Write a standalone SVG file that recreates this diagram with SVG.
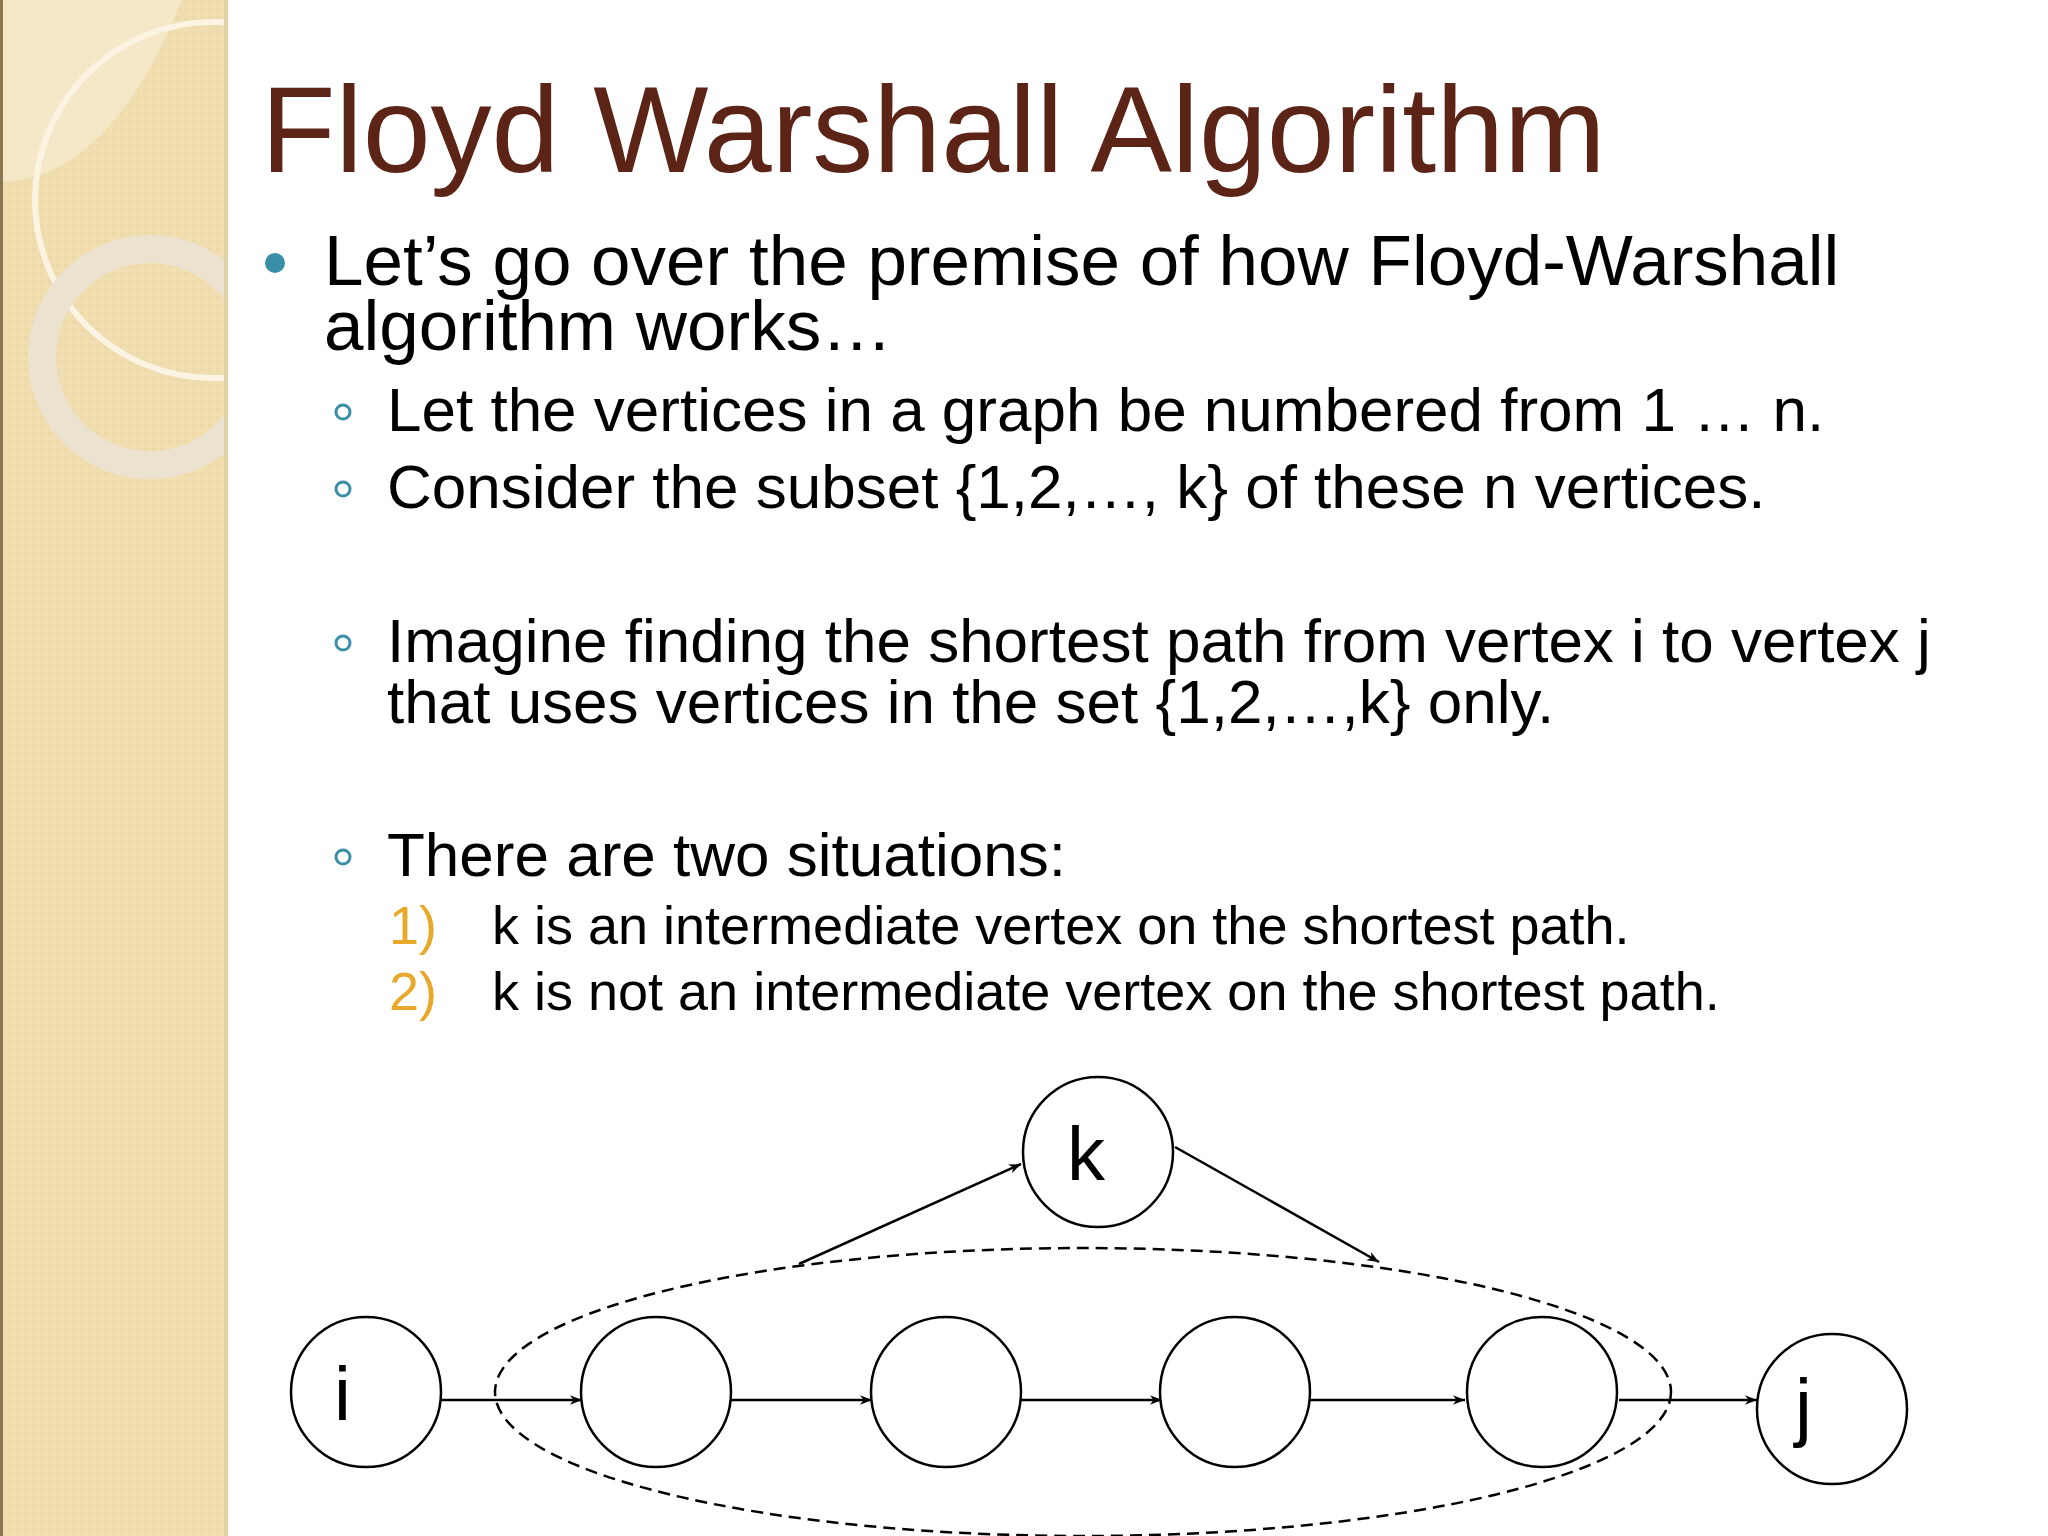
<svg xmlns="http://www.w3.org/2000/svg" width="2048" height="1536" viewBox="0 0 2048 1536">
<style>
text{font-family:"Liberation Sans",Arial,sans-serif}
.b{font-size:71px;fill:#000}
.s{font-size:62px;fill:#000}
.n{font-size:54px;fill:#000}
.o{fill:none;stroke:#3a8fa8;stroke-width:3}
.v{fill:#fff;stroke:#000;stroke-width:2.5}
.e{stroke:#000;stroke-width:2.5;fill:none;marker-end:url(#a)}
.lbl{font-size:76px;fill:#000}
</style>
<defs>
<marker id="a" viewBox="0 0 10 10" refX="10" refY="5" markerWidth="12" markerHeight="12" orient="auto" markerUnits="userSpaceOnUse"><path d="M0,1 L10,5 L0,9 L3,5z" fill="#000"/></marker>
<pattern id="p" width="8" height="8" patternUnits="userSpaceOnUse"><rect width="8" height="8" fill="#f0deb0"/><rect width="4" height="4" fill="#eed9a8"/></pattern>
<clipPath id="c"><rect x="0" y="0" width="227" height="1536"/></clipPath>
</defs>
<rect width="2048" height="1536" fill="#fff"/>
<g id="band">
<rect x="0" y="0" width="227" height="1536" fill="url(#p)"/>
<g clip-path="url(#c)">
<path d="M0,182 Q110,180 182,0 L0,0z" fill="#f5ead0" opacity="0.8"/>
<circle cx="213" cy="200" r="178" fill="none" stroke="#fbf4e2" stroke-width="6"/>
<circle cx="150" cy="357" r="108" fill="none" stroke="#ebe3cf" stroke-width="28"/>
</g>
<rect x="0" y="0" width="3" height="1536" fill="#8a7550"/>
<rect x="224" y="0" width="4" height="1536" fill="#e3d2a5"/>
</g>
<text id="title" x="261" y="172" font-size="122" fill="#5c2416">Floyd Warshall Algorithm</text>
<g id="text">
<circle cx="275" cy="263" r="10" fill="#3a8fa8"/>
<text class="b" x="324" y="285">Let’s go over the premise of how Floyd-Warshall</text>
<text class="b" x="324" y="350">algorithm works…</text>
<circle class="o" cx="343" cy="412" r="7"/>
<text class="s" x="387" y="431">Let the vertices in a graph be numbered from 1 … n.</text>
<circle class="o" cx="343" cy="489" r="7"/>
<text class="s" x="387" y="508">Consider the subset {1,2,…, k} of these n vertices.</text>
<circle class="o" cx="343" cy="643" r="7"/>
<text class="s" x="387" y="662">Imagine finding the shortest path from vertex i to vertex j</text>
<text class="s" x="387" y="723">that uses vertices in the set {1,2,…,k} only.</text>
<circle class="o" cx="343" cy="857" r="7"/>
<text class="s" x="387" y="876">There are two situations:</text>
<text class="n" x="389" y="944" style="fill:#e8a92a">1)</text>
<text class="n" x="492" y="944">k is an intermediate vertex on the shortest path.</text>
<text class="n" x="389" y="1010" style="fill:#e8a92a">2)</text>
<text class="n" x="492" y="1010">k is not an intermediate vertex on the shortest path.</text>
</g>
<g id="connectors">
<ellipse cx="1083" cy="1392" rx="588" ry="144" fill="none" stroke="#000" stroke-width="2.5" stroke-dasharray="12,7"/>
<line class="e" x1="441" y1="1400" x2="582" y2="1400"/>
<line class="e" x1="731" y1="1400" x2="872" y2="1400"/>
<line class="e" x1="1021" y1="1400" x2="1162" y2="1400"/>
<line class="e" x1="1310" y1="1400" x2="1465" y2="1400"/>
<line class="e" x1="1619" y1="1400" x2="1757" y2="1400"/>
<line class="e" x1="799" y1="1264" x2="1021" y2="1164"/>
<line class="e" x1="1175" y1="1147" x2="1379" y2="1262"/>
</g>
<g id="node-i"><circle class="v" cx="366" cy="1392" r="75"/><text class="lbl" x="334" y="1420">i</text></g>
<g id="node-1"><circle class="v" cx="656" cy="1392" r="75"/></g>
<g id="node-2"><circle class="v" cx="946" cy="1392" r="75"/></g>
<g id="node-3"><circle class="v" cx="1235" cy="1392" r="75"/></g>
<g id="node-4"><circle class="v" cx="1542" cy="1392" r="75"/></g>
<g id="node-j"><circle class="v" cx="1832" cy="1409" r="75"/><text class="lbl" x="1795" y="1432">j</text></g>
<g id="node-k"><circle class="v" cx="1098" cy="1152" r="75"/><text class="lbl" x="1067" y="1180">k</text></g>
</svg>
